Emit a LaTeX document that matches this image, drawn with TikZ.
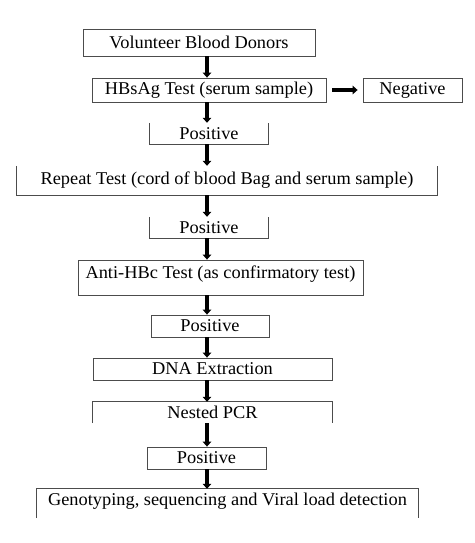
\documentclass[tikz,border=0pt]{standalone}
\usepackage{fontspec}
\setmainfont{Liberation Serif}[FakeStretch=1.02]
\usepackage{tikz}
\usetikzlibrary{arrows.meta}

\tikzset{
    stage/.style={inner sep=0pt, font=\fontsize{18}{21}\selectfont},
    boxed/.style={stage, draw=black!70, line width=0.8pt},
    edge/.style={draw=black!70, line width=0.8pt},
    flow/.style={line width=4pt, -{Triangle[length=5pt, width=8.5pt]}}
}

\begin{document}
\begin{tikzpicture}[x=1pt, y=-1pt]
\useasboundingbox (0,0) rectangle (474,543);
% column along which the main arrows run
\coordinate (spine) at (207,0);

% Closed boxes
\node[boxed, minimum width=232pt, minimum height=27pt] (donors) at (199,42.5) {Volunteer Blood Donors};
\node[boxed, minimum width=234pt, minimum height=24pt] (hbsag) at (209,90) {HBsAg Test (serum sample)};
\node[boxed, minimum width=99pt, minimum height=24pt] (negative) at (412.5,90) {Negative};
\node[boxed, minimum width=285pt, minimum height=35pt, text depth=10pt] (antihbc) at (220.5,277.5) {Anti-HBc Test (as confirmatory test)};
\node[boxed, minimum width=118pt, minimum height=22pt] (posC) at (210,326) {Positive};
\node[boxed, minimum width=239pt, minimum height=22pt] (dna) at (212.5,369) {DNA Extraction};
\node[boxed, minimum width=119pt, minimum height=22pt] (posD) at (206.5,458) {Positive};

% Boxes that are open at the top
\node[stage, minimum width=118pt, minimum height=21pt] (posA) at (209,133.5) {Positive};
\node[stage, minimum width=420pt, minimum height=29pt] (repeat) at (227,180.5) {Repeat Test (cord of blood Bag and serum sample)};
\node[stage, minimum width=118pt, minimum height=21pt] (posB) at (209,227.5) {Positive};
\foreach \n in {posA, repeat, posB}
    \draw[edge] (\n.north west) -- (\n.south west) -- (\n.south east) -- (\n.north east);

% Boxes that are open at the bottom
\node[stage, minimum width=239pt, minimum height=21pt] (nested) at (212.5,412.5) {Nested PCR};
\node[stage, minimum width=381pt, minimum height=29pt, text depth=9pt] (geno) at (227.5,503.5) {Genotyping, sequencing and Viral load detection};
\foreach \n in {nested, geno}
    \draw[edge] (\n.south west) -- (\n.north west) -- (\n.north east) -- (\n.south east);

% Thick arrows down the spine, and the one to the negative result
\foreach \a/\b in {donors/hbsag, hbsag/posA, posA/repeat, repeat/posB, posB/antihbc,
                   antihbc/posC, posC/dna, dna/nested, nested/posD, posD/geno}
    \draw[flow] (\a.south -| spine) -- (\b.north -| spine);
\draw[flow, shorten <=6pt, shorten >=5pt] (hbsag) -- (negative);
\end{tikzpicture}
\end{document}
